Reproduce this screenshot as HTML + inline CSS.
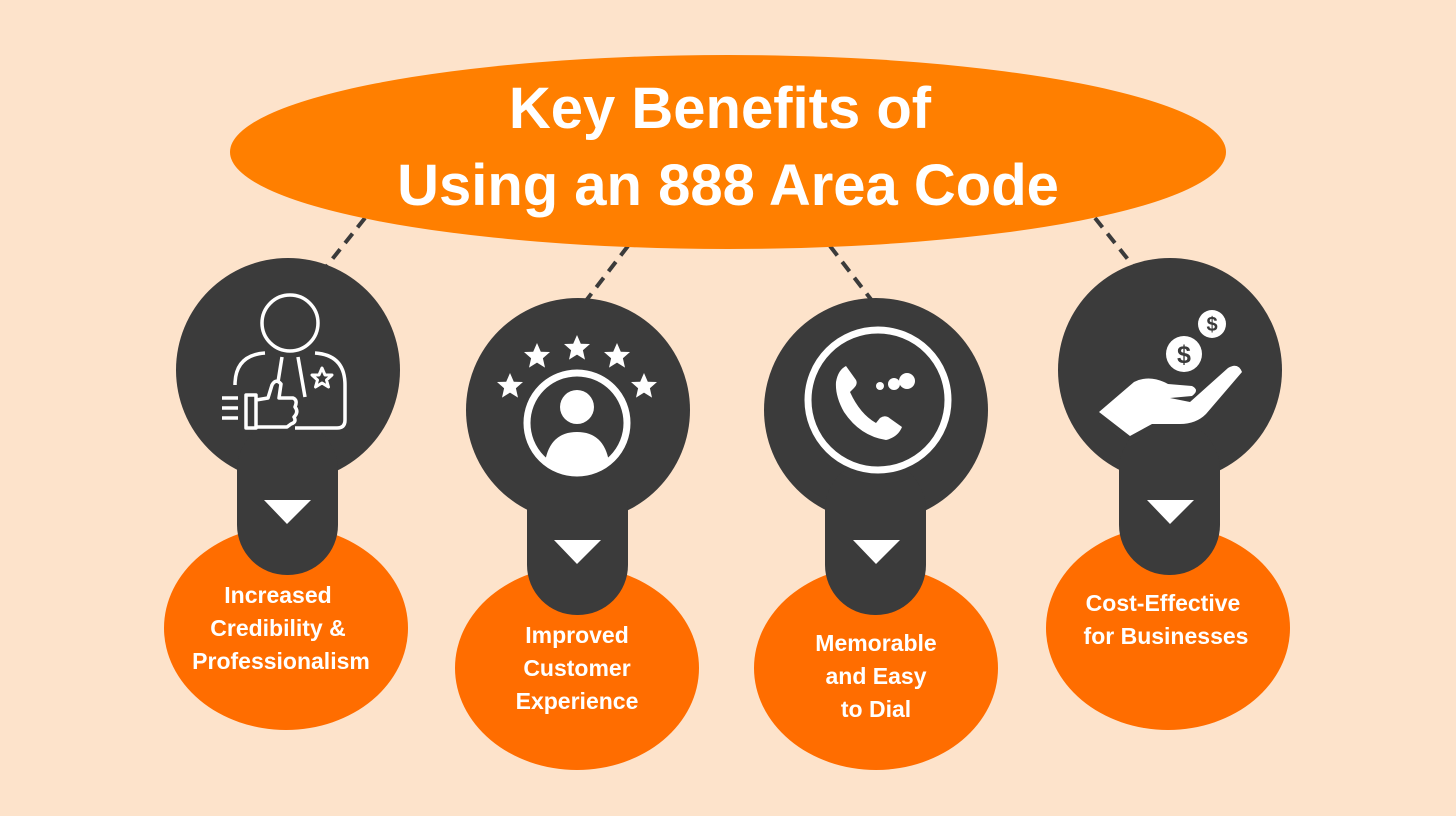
<!DOCTYPE html>
<html><head><meta charset="utf-8"><style>
html,body{margin:0;padding:0;background:#FDE3CB;}
svg{display:block}
text{font-family:"Liberation Sans",Arial,sans-serif;font-weight:bold;fill:#fff;text-anchor:middle}
</style></head><body>
<svg width="1456" height="816" viewBox="0 0 1456 816">
<defs><path id="st" d="M0,-13 L3.8,-4.2 13,-4 5.9,2.2 8,11.6 0,6.6 -8,11.6 -5.9,2.2 -13,-4 -3.8,-4.2Z"/></defs>
<rect width="1456" height="816" fill="#FDE3CB"/>
<g stroke="#3B3B3B" stroke-width="4" stroke-dasharray="12,8">
<line x1="365" y1="218" x2="322" y2="272"/>
<line x1="628" y1="246" x2="585" y2="302"/>
<line x1="830" y1="246" x2="873" y2="302"/>
<line x1="1095" y1="218" x2="1138" y2="272"/>
</g>
<ellipse cx="728" cy="152" rx="498" ry="97" fill="#FF7F00"/>
<text x="720" y="128" font-size="58">Key Benefits of</text>
<text x="728" y="205" font-size="58">Using an 888 Area Code</text>

<g fill="#FF6D00">
<ellipse cx="286" cy="628" rx="122" ry="102"/>
<ellipse cx="577" cy="668" rx="122" ry="102"/>
<ellipse cx="876" cy="668" rx="122" ry="102"/>
<ellipse cx="1168" cy="628" rx="122" ry="102"/>
</g>
<g fill="#3B3B3B">
<circle cx="288" cy="370" r="112"/><rect x="237" y="420" width="101" height="155" rx="50"/>
<circle cx="578" cy="410" r="112"/><rect x="527" y="460" width="101" height="155" rx="50"/>
<circle cx="876" cy="410" r="112"/><rect x="825" y="460" width="101" height="155" rx="50"/>
<circle cx="1170" cy="370" r="112"/><rect x="1119" y="420" width="101" height="155" rx="50"/>
</g>
<g fill="#fff">
<polygon points="264,500 311,500 287,524"/>
<polygon points="554,540 601,540 577,564"/>
<polygon points="853,540 900,540 876,564"/>
<polygon points="1147,500 1194,500 1170,524"/>
</g>
<g fill="none" stroke="#fff" stroke-width="3.5" stroke-linejoin="round">
<circle cx="290" cy="323" r="28"/>
<path d="M235,385 Q235,355 265,353 M315,353 Q345,355 345,385 V420 Q345,428 337,428 H295"/>
<path d="M282,357 L278,382 M298,357 L305,397"/>
<path d="M246,395 V428 H256 V395 Z M256,400 L268,398 L272,385 Q276,378 281,384 L279,398 H293 Q298,400 295,407 Q299,412 294,417 Q297,422 291,424 L287,427 H256"/>
<path d="M222,398 H238 M222,408 H238 M222,418 H238"/>
<path d="M322,368 l3,7 7,0 -5.5,5 2,7 -6.5,-4 -6.5,4 2,-7 -5.5,-5 7,0z" stroke-width="3"/>
</g>
<g fill="#fff">
<use href="#st" x="537" y="356"/><use href="#st" x="577" y="348"/><use href="#st" x="617" y="356"/>
<use href="#st" x="510" y="386"/><use href="#st" x="644" y="386"/>
</g>
<g fill="none" stroke="#fff" stroke-width="7"><circle cx="577" cy="423" r="50"/></g>
<g fill="#fff"><circle cx="577" cy="407" r="17"/><path d="M545,462 Q550,432 577,432 Q604,432 609,462 Q594,474 577,474 Q560,474 545,462Z"/></g>
<circle cx="878" cy="400" r="70" fill="none" stroke="#fff" stroke-width="7"/>
<path fill="#fff" d="M836,382 Q838,370 846,366 L856,380 Q858,384 854,388 L850,392 Q860,414 876,423 L880,418 Q884,415 888,417 L902,427 Q898,437 886,440 Q860,436 844,412 Q835,396 836,382Z"/>
<circle cx="880" cy="386" r="4" fill="#fff"/><circle cx="894" cy="384" r="6" fill="#fff"/><circle cx="907" cy="381" r="8" fill="#fff"/>
<g fill="#fff">
<circle cx="1212" cy="324" r="14"/><circle cx="1184" cy="354" r="18"/>
<path d="M1099,412 L1134,382 Q1150,374 1168,384 L1192,386 Q1200,390 1192,396 L1170,398 L1190,402 L1228,368 Q1238,362 1242,372 L1206,414 Q1196,424 1180,424 L1152,424 L1130,436Z"/>
</g>
<text x="1212" y="331" style="fill:#3B3B3B;font-size:20px">$</text><text x="1184" y="363" style="fill:#3B3B3B;font-size:25px">$</text>

<g font-size="23">
<text x="278" y="603">Increased</text><text x="278" y="636">Credibility &amp;</text><text x="281" y="669">Professionalism</text>
<text x="577" y="643">Improved</text><text x="577" y="676">Customer</text><text x="577" y="709">Experience</text>
<text x="876" y="651">Memorable</text><text x="876" y="684">and Easy</text><text x="876" y="717">to Dial</text>
<text x="1163" y="611">Cost-Effective</text><text x="1166" y="644">for Businesses</text>
</g>
</svg>
</body></html>
